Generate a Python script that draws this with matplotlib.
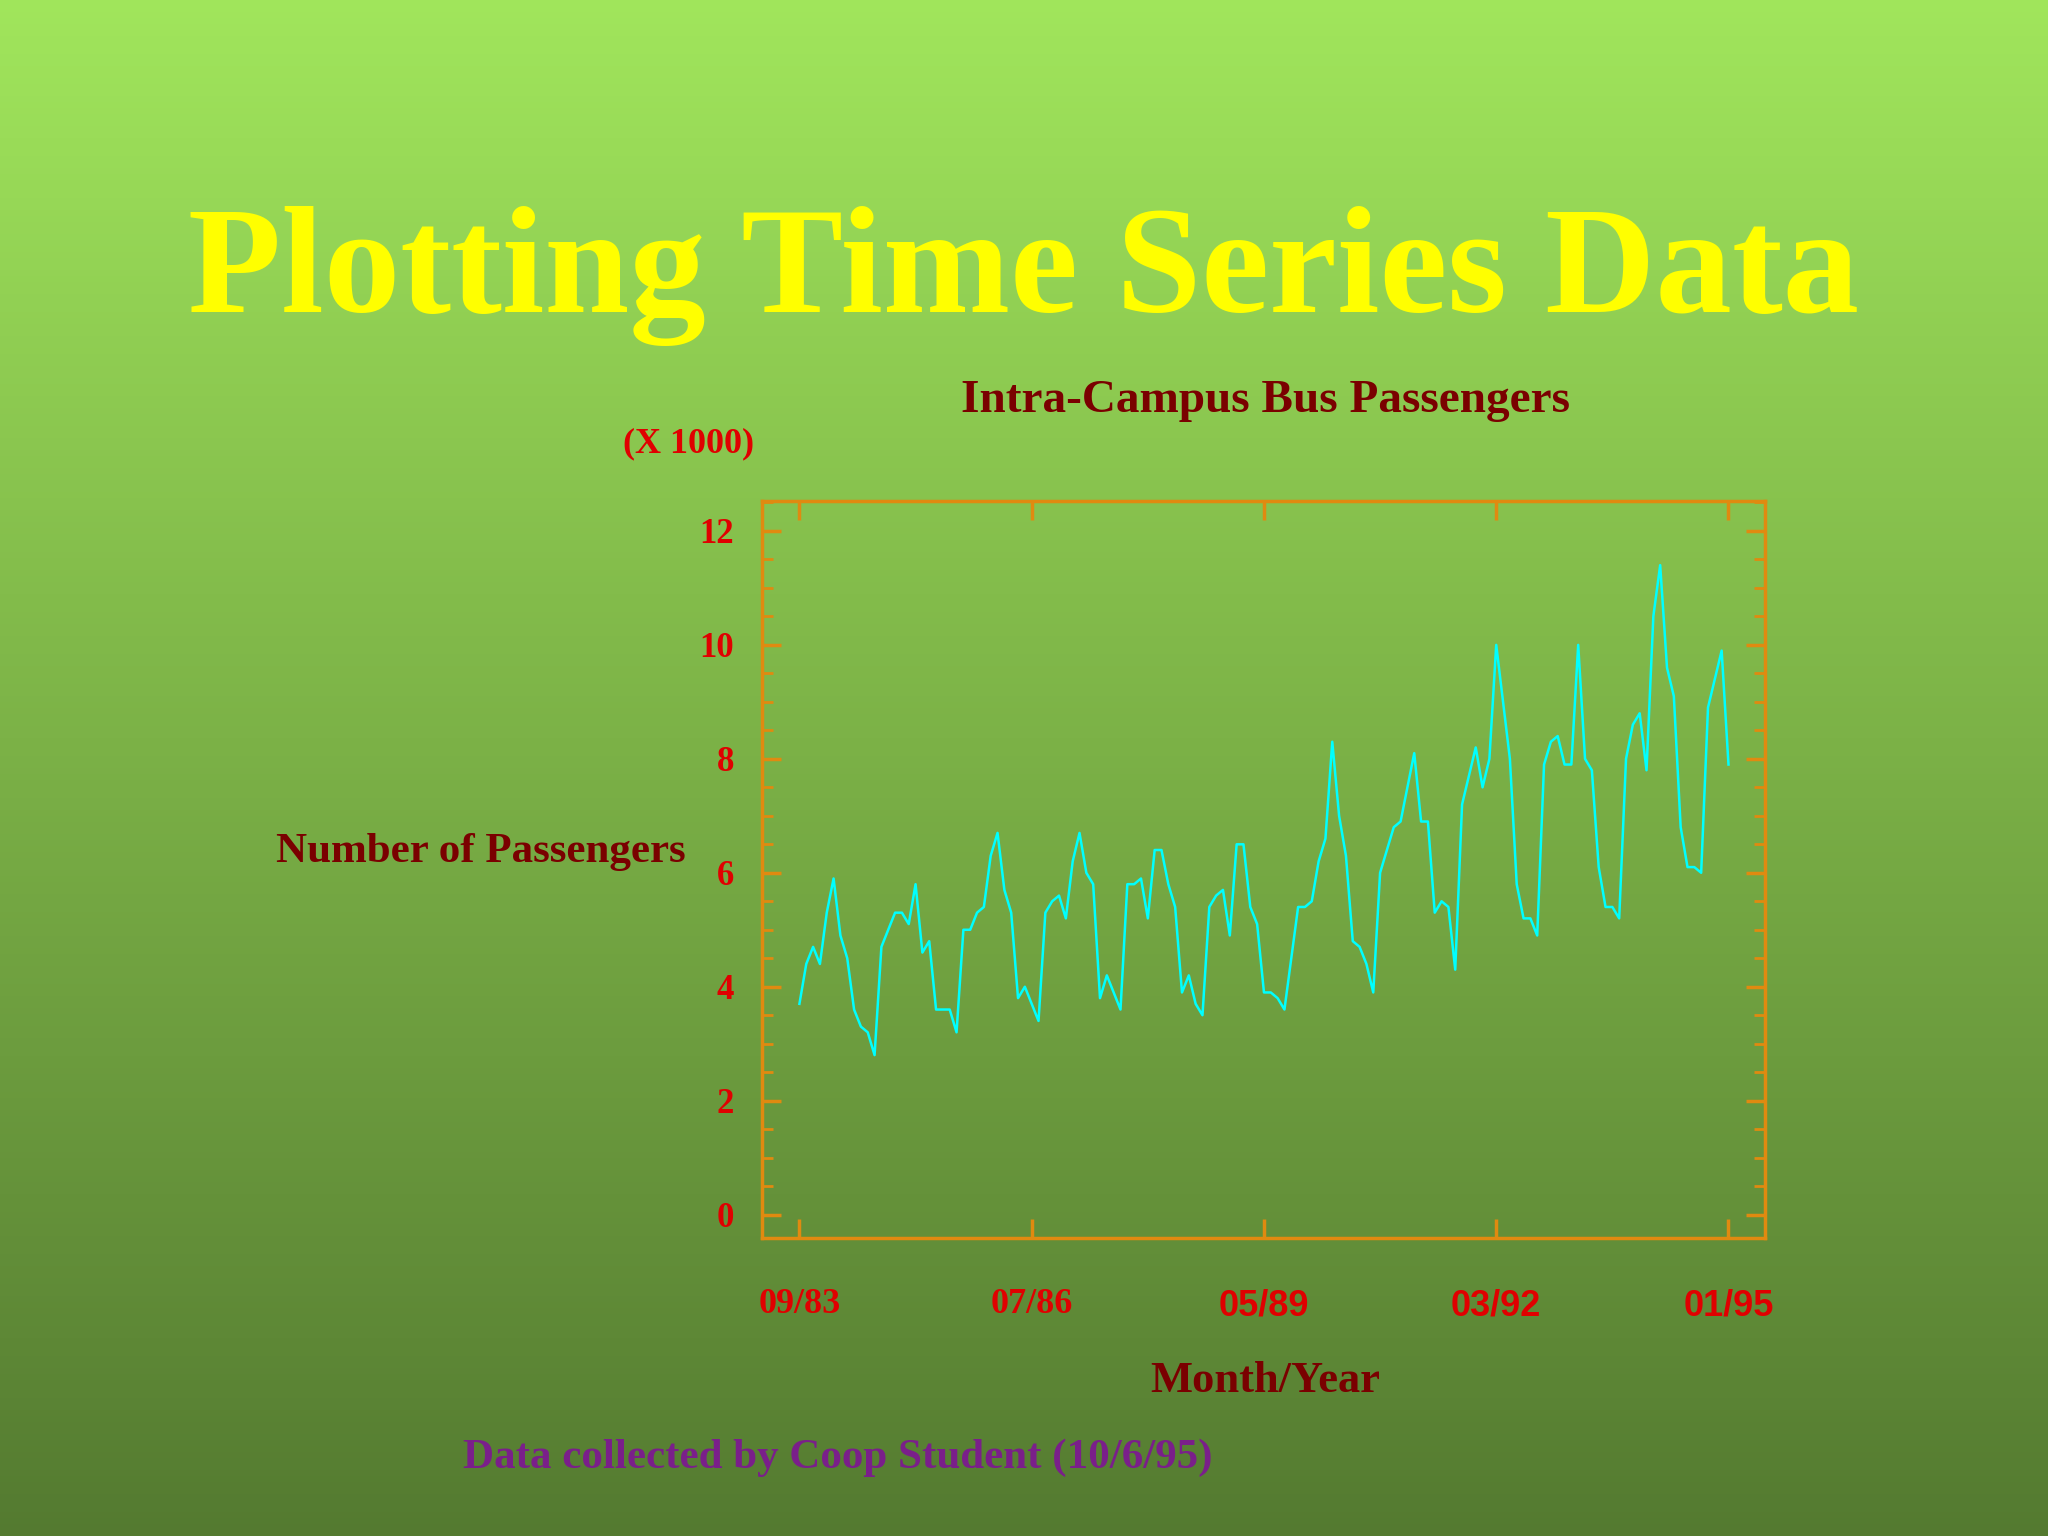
import numpy as np
import matplotlib.pyplot as plt
from matplotlib.ticker import MultipleLocator

# monthly passengers (x 1000), starting 09/83
passengers = [3.7, 4.4, 4.7, 4.4, 5.3, 5.9, 4.9, 4.5, 3.6, 3.3, 3.2, 2.8,
              4.7, 5.0, 5.3, 5.3, 5.1, 5.8, 4.6, 4.8, 3.6, 3.6, 3.6, 3.2,
              5.0, 5.0, 5.3, 5.4, 6.3, 6.7, 5.7, 5.3, 3.8, 4.0, 3.7, 3.4,
              5.3, 5.5, 5.6, 5.2, 6.2, 6.7, 6.0, 5.8, 3.8, 4.2, 3.9, 3.6,
              5.8, 5.8, 5.9, 5.2, 6.4, 6.4, 5.8, 5.4, 3.9, 4.2, 3.7, 3.5,
              5.4, 5.6, 5.7, 4.9, 6.5, 6.5, 5.4, 5.1, 3.9, 3.9, 3.8, 3.6,
              4.5, 5.4, 5.4, 5.5, 6.2, 6.6, 8.3, 7.0, 6.3, 4.8, 4.7, 4.4, 3.9,
              6.0, 6.4, 6.8, 6.9, 7.5, 8.1, 6.9, 6.9, 5.3, 5.5, 5.4, 4.3,
              7.2, 7.7, 8.2, 7.5, 8.0, 10.0, 9.0, 8.0, 5.8, 5.2, 5.2, 4.9,
              7.9, 8.3, 8.4, 7.9, 7.9, 10.0, 8.0, 7.8, 6.1, 5.4, 5.4, 5.2,
              8.0, 8.6, 8.8, 7.8, 10.5, 11.4, 9.6, 9.1, 6.8, 6.1, 6.1, 6.0,
              8.9, 9.4, 9.9, 7.9]
tick_months = [0, 34, 68, 102, 136]
tick_labels = ['09/83', '07/86', '05/89', '03/92', '01/95']

fig = plt.figure(figsize=(20.48, 15.36), dpi=100)

# background gradient
bg = fig.add_axes([0, 0, 1, 1])
grad = np.linspace(0, 1, 256).reshape(-1, 1)
top = np.array([0.63, 0.90, 0.36])
bot = np.array([0.33, 0.48, 0.19])
img = top[None, None, :] * (1 - grad[:, :, None]) + bot[None, None, :] * grad[:, :, None]
bg.imshow(img, aspect='auto', extent=[0, 1, 0, 1])
bg.axis('off')

serif = 'Liberation Serif'
fig.text(0.5, 0.82, 'Plotting Time Series Data', ha='center', va='center',
         color='#ffff00', fontsize=110, fontweight='bold', family=serif)
fig.text(0.618, 0.739, 'Intra-Campus Bus Passengers', ha='center', va='center',
         color='#7a0000', fontsize=34, fontweight='bold', family=serif)
fig.text(0.336, 0.711, '(X 1000)', ha='center', va='center',
         color='#e00000', fontsize=26, fontweight='bold', family=serif)
fig.text(0.235, 0.445, 'Number of Passengers', ha='center', va='center',
         color='#7a0000', fontsize=31, fontweight='bold', family=serif)
fig.text(0.618, 0.101, 'Month/Year', ha='center', va='center',
         color='#7a0000', fontsize=32, fontweight='bold', family=serif)
fig.text(0.409, 0.051, 'Data collected by Coop Student (10/6/95)', ha='center', va='center',
         color='#7a1f8a', fontsize=31, fontweight='bold', family=serif)

ax = fig.add_axes([0.372, 0.194, 0.49, 0.48])
ax.patch.set_alpha(0)
months = np.arange(len(passengers))
ax.plot(months, passengers, color='#00ffff', lw=1.8)
ax.set_xlim(-5.5, 141.4)
ax.set_ylim(-0.41, 12.53)

for s in ax.spines.values():
    s.set_color('#e08a10')
    s.set_linewidth(2.5)

ax.yaxis.set_major_locator(MultipleLocator(2))
ax.yaxis.set_minor_locator(MultipleLocator(0.5))
ax.set_xticks(tick_months)
ax.set_xticklabels(tick_labels)
ax.tick_params(which='both', direction='in', color='#e08a10', top=True, right=True)
ax.tick_params(which='major', length=14, width=2.5)
ax.tick_params(which='minor', length=8, width=2)
ax.tick_params(axis='y', pad=20, labelsize=25, labelcolor='#e00000')
ax.tick_params(axis='x', pad=36, labelsize=26, labelcolor='#e00000')
for lab in ax.get_yticklabels():
    lab.set_family(serif)
    lab.set_fontweight('bold')
for i, lab in enumerate(ax.get_xticklabels()):
    lab.set_fontweight('bold')
    lab.set_family(serif if i < 2 else 'Liberation Sans')

fig.savefig('out.png', dpi=100)
